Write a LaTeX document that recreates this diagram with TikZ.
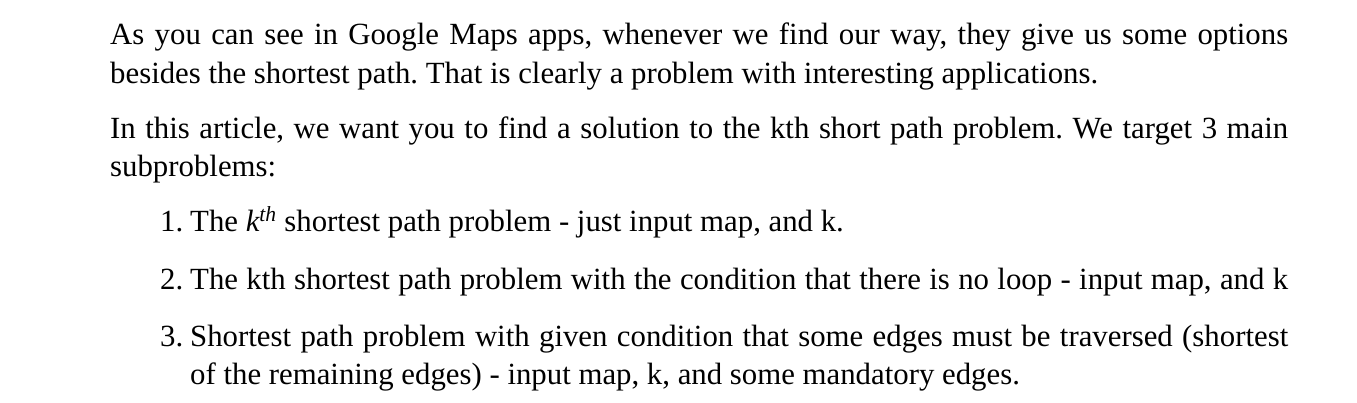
\documentclass[tikz,border=0pt]{standalone}
\usepackage{fontspec}
\setmainfont{Liberation Serif}
\begin{document}
\frenchspacing
\begin{tikzpicture}[x=1pt,y=1pt,
  ln/.style={anchor=base west,inner sep=0pt,font=\fontsize{30.8}{34}\selectfont},
  jl/.style={ln,text width=#1,align=justify}]
\useasboundingbox[fill=white] (0,0) rectangle (1357,-402);
\node[jl=1178pt] (l1) at (110,-44) {\parfillskip=0pt As you can see in Google Maps apps, whenever we find our way, they give us some options\par};
\node[ln] (l2) at (110,-83) {besides the shortest path. That is clearly a problem with interesting applications.};
\node[jl=1178pt] (l3) at (110,-138) {\parfillskip=0pt In this article, we want you to find a solution to the kth short path problem. We target 3 main\par};
\node[ln] (l4) at (110,-176) {subproblems:};
\node[ln] (n1) at (160,-231) {1.};
\node[ln] (i1) at (190,-231) {The \textit{k\textsuperscript{th}} shortest path problem - just input map, and k.};
\node[ln] (n2) at (160,-289) {2.};
\node[jl=1098pt] (i2) at (190,-289) {\parfillskip=0pt The kth shortest path problem with the condition that there is no loop - input map, and k\par};
\node[ln] (n3) at (160,-346) {3.};
\node[jl=1098pt] (i3) at (190,-346) {\parfillskip=0pt Shortest path problem with given condition that some edges must be traversed (shortest\par};
\node[ln] (i4) at (190,-384) {of the remaining edges) - input map, k, and some mandatory edges.};
\end{tikzpicture}
\end{document}
